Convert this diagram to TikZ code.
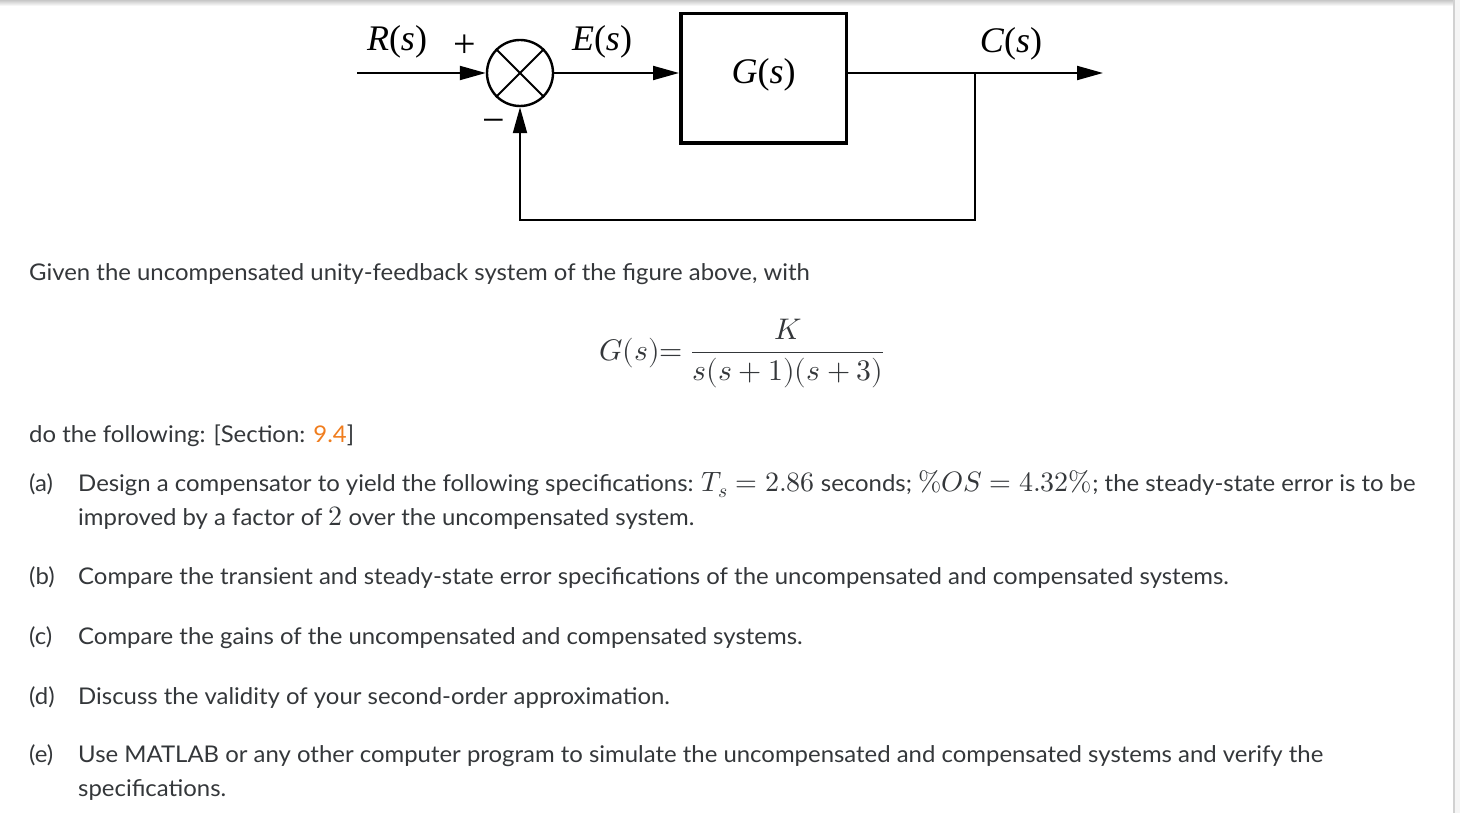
\documentclass[tikz,border=0pt]{standalone}
\usepackage{fontspec}
\usepackage{unicode-math}
\setmainfont{Lato}[FakeStretch=1.04]
\setmathfont{latinmodern-math.otf}
\newfontfamily\diagfont{Liberation Serif}
\usetikzlibrary{arrows.meta,positioning}
\definecolor{txtgray}{RGB}{52,55,58}
\definecolor{secorange}{RGB}{240,125,30}
\newcommand{\sig}[1]{\textit{#1}(\textit{s})}
\newcommand{\mth}[1]{{\fontsize{28}{30}\selectfont$#1$}}
\begin{document}
\begin{tikzpicture}
[x=1pt,y=-1pt,
  sumdecorate/.style={shape=circle,draw,line width=2.4pt,minimum size=66pt,inner sep=0pt},%
  blockdecorate/.style={draw,line width=3.5pt,minimum width=165.5pt,minimum height=129.5pt,inner sep=0pt},%
  linedecorate/.style={-,line width=2pt},%
  arrowdecorate/.style={-{Triangle[length=26pt,width=14pt]},line width=2pt},%
  labeldecorate/.style={font=\diagfont\fontsize{36}{40}\selectfont,inner sep=0pt},%
  signdecorate/.style={font=\diagfont\fontsize{40}{42}\selectfont,inner sep=0pt},%
  textdecorate/.style={anchor=base west,inner sep=0pt,text=txtgray,font=\fontsize{23}{27}\selectfont}]
\useasboundingbox (0,0) rectangle (1460,813);
% page edges
\fill[top color=black!22,bottom color=white] (0,0) rectangle (1460,6);
\fill[black!4] (1454,0) rectangle (1460,813);
\draw[black!18,line width=1.5pt] (1454,0) -- (1454,813);
% nodes or blocks
\node (sum) at (520,73) [sumdecorate] {};
\node (plant) at (763.5,78.5) [blockdecorate] {};
\node (gs) at (763.5,75) [labeldecorate] {\sig{G}};
\coordinate (in) at (357,73);
\coordinate (branch) at (975,73);
\coordinate (out) at (1103,73);
\coordinate (fbcorner) at (975,220);
% labels
\node (rs) at (397,42) [labeldecorate] {\sig{R}};
\node (plus) at (465,46) [signdecorate] {+};
\node (es) at (602,42) [labeldecorate] {\sig{E}};
\node (cs) at (1011,44) [labeldecorate] {\sig{C}};
\node (minus) at (494,126) [signdecorate] {−};
% edges or lines
\draw[linedecorate] (sum.north west) -- (sum.south east);
\draw[linedecorate] (sum.north east) -- (sum.south west);
\draw[arrowdecorate] (in) -- (sum.west);
\draw[arrowdecorate] (sum.east) -- (sum.east -| plant.west);
\draw[arrowdecorate] (plant.east |- sum) -- (out);
\draw[arrowdecorate] (branch) -- (fbcorner) -| (sum.south);
% text
\node (intro) at (29,281) [textdecorate] {Given the uncompensated unity-feedback system of the figure above, with};
\node (eq) at (599,360) [textdecorate,font=\fontsize{29.8}{35}\selectfont,text=txtgray] {$G(s){=}\;{\displaystyle\frac{K}{s(s+1)(s+3)}}$};
\node (todo) at (29,442) [textdecorate] {do the following: [Section: \textcolor{secorange}{9.4}]};
\node (la) at (29,491) [textdecorate] {(a)};
\node (ta) at (78,491) [textdecorate] {Design a compensator to yield the following specifications: \mth{T_s=2.86} seconds; \mth{\%OS=4.32\%}; the steady-state error is to be};
\node (ta2) at (78,525) [textdecorate] {improved by a factor of \mth{2} over the uncompensated system.};
\node (lb) at (29,584) [textdecorate] {(b)};
\node (tb) at (78,584) [textdecorate] {Compare the transient and steady-state error specifications of the uncompensated and compensated systems.};
\node (lc) at (29,644) [textdecorate] {(c)};
\node (tc) at (78,644) [textdecorate] {Compare the gains of the uncompensated and compensated systems.};
\node (ld) at (29,704) [textdecorate] {(d)};
\node (td) at (78,704) [textdecorate] {Discuss the validity of your second-order approximation.};
\node (le) at (29,762) [textdecorate] {(e)};
\node (te) at (78,762) [textdecorate] {Use MATLAB or any other computer program to simulate the uncompensated and compensated systems and verify the};
\node (te2) at (78,796) [textdecorate] {specifications.};
\end{tikzpicture}
\end{document}
